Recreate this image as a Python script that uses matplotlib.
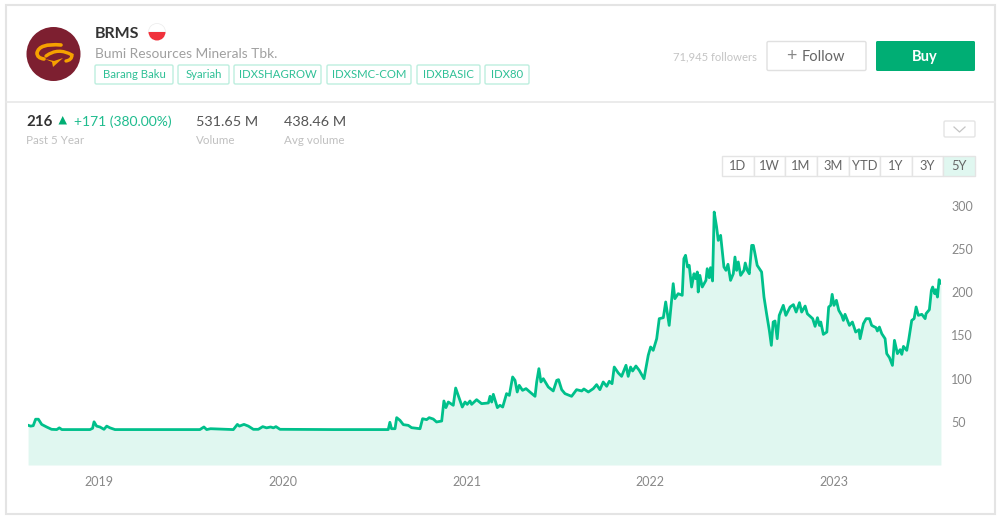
import matplotlib
matplotlib.use("Agg")
import matplotlib.pyplot as plt
from matplotlib.patches import Circle, FancyBboxPatch, Rectangle, Wedge, Polygon, PathPatch
from matplotlib.path import Path

plt.rcParams['font.family'] = ['Lato', 'DejaVu Sans']

# ---------- data ----------
years = [2018.614,2018.628,2018.642,2018.655,2018.670,2018.688,2018.715,2018.742,2018.770,2018.784,2018.798,2018.924,2018.951,2018.965,2018.973,2018.987,
2019.005,2019.027,2019.042,2019.060,2019.087,2019.549,2019.571,2019.586,2019.607,2019.731,2019.753,2019.764,2019.789,2019.813,2019.840,2019.867,2019.891,2019.912,2019.934,2019.949,2019.963,2019.985,
2020.275,2020.574,2020.583,2020.592,2020.611,2020.620,2020.638,2020.656,2020.683,2020.701,2020.747,2020.761,2020.783,2020.797,2020.819,2020.837,2020.865,2020.877,2020.888,2020.901,2020.928,2020.941,2020.955,2020.977,2020.992,
2021.004,2021.019,2021.028,2021.055,2021.082,2021.119,2021.128,2021.137,2021.146,2021.168,2021.182,2021.197,2021.218,2021.233,2021.251,2021.264,2021.276,2021.287,2021.305,2021.324,2021.345,2021.373,2021.382,2021.394,2021.405,2021.418,2021.445,2021.472,2021.491,2021.501,2021.518,2021.536,2021.572,2021.599,2021.627,2021.639,2021.663,2021.690,2021.708,2021.726,2021.744,2021.763,2021.777,2021.792,2021.804,2021.826,2021.844,2021.868,2021.880,2021.893,2021.904,2021.922,2021.940,2021.966,2021.989,
2022.002,2022.016,2022.035,2022.049,2022.071,2022.084,2022.103,2022.125,2022.134,2022.152,2022.174,2022.183,2022.192,2022.203,2022.212,2022.225,2022.238,2022.247,2022.256,2022.261,2022.270,2022.283,2022.303,2022.310,2022.321,2022.328,2022.339,2022.348,2022.361,2022.370,2022.383,2022.401,2022.412,2022.423,2022.437,2022.452,2022.461,2022.470,2022.479,2022.492,2022.510,2022.517,2022.528,2022.539,2022.552,2022.561,2022.570,2022.582,2022.606,2022.619,2022.633,2022.648,2022.659,2022.669,2022.679,2022.691,2022.702,2022.724,2022.738,
2022.761,2022.779,2022.794,2022.812,2022.824,2022.843,2022.855,2022.884,2022.897,2022.910,2022.921,2022.928,2022.942,2022.961,2022.971,2022.982,2022.990,
2023.000,2023.013,2023.026,2023.042,2023.051,2023.060,2023.084,2023.100,2023.118,2023.136,2023.142,2023.160,2023.175,2023.193,2023.205,2023.229,2023.236,2023.247,2023.260,2023.278,2023.287,2023.302,2023.318,2023.329,2023.345,2023.360,2023.369,2023.378,2023.396,2023.407,2023.423,2023.436,2023.447,2023.459,2023.478,2023.496,2023.501,2023.519,2023.530,2023.537,2023.548,2023.554,2023.563,2023.572,2023.582]
prices = [46,45,45.5,53,53,47,44,41.3,41,43,41,41,41,42.5,50,45,
44,41.3,45,43,41,41,44,41,42,41,47,45,47,45,41.3,41.3,44.4,43,44,43,44.4,41.3,
41,41,49.4,42,42,54.8,51.7,46.7,45.9,43.2,42,53.6,52.5,54.8,53.2,49.8,50.9,74.1,66.4,72.9,69.1,89.1,80.6,67.1,72.9,
70.2,74.1,70.2,75.6,71,71.8,79.5,72.9,81.8,66.4,69.1,67.1,82.6,80.6,101.9,98,84.5,92.2,86.4,88.4,84.5,79.5,96.1,111.5,96.1,99.9,90.3,85.7,98,98.8,87.2,82.6,79.5,87.2,85.7,88,84.5,88.4,93,87.2,96.1,91.1,96.9,94.1,113.4,106.5,102.6,115.4,102.6,113.4,108.8,114.6,109.6,99.9,126.9,
136.6,132.7,146.2,169.4,170.5,188.7,161.6,209.9,192.5,198.3,196.4,238.8,242.7,229.2,231.1,206,221.4,215.7,223.4,200.2,219.5,206,213.7,227.2,216.8,228.4,213,292.8,275.5,260,265.8,229.2,225.3,232.3,213.7,221.4,240.7,225.3,235,219.5,225.3,233.8,225.3,221.4,254.2,254.2,244.6,231.1,223.4,194.4,175.2,155.9,138.5,165.5,166.7,146.2,173.2,184.8,173.2,
182.9,185.6,177,187.9,177,184,175,169.4,160.5,170.5,161.6,165.5,151.2,153.9,182.9,184.8,197.5,
184.8,190.6,179,173.2,167.4,174.4,161.6,165.5,153.9,156.6,146.2,163.6,169.4,169.4,161.6,158.9,155.1,159.7,152,146.2,128.9,124.2,115.3,144.3,128.9,133.5,128.1,137.3,132.7,145.4,167.4,169.4,182.9,173.2,174.4,169.4,175.2,179.8,202.2,206,198.3,202.9,194.4,214.5,210.6]
year_ticks = [2019, 2020, 2021, 2022, 2023]
price_ticks = [50, 100, 150, 200, 250, 300]
tags = ["Barang Baku", "Syariah", "IDXSHAGROW", "IDXSMC-COM", "IDXBASIC", "IDX80"]
tag_edges = [(95, 173), (178, 229), (234, 321), (327, 411), (417, 480), (485, 529)]
ranges = ["1D", "1W", "1M", "3M", "YTD", "1Y", "3Y", "5Y"]

GREEN = "#00c08b"
FILL = "#e0f7f0"
BUY = "#00ae74"
ORANGE = "#f6a100"

fig = plt.figure(figsize=(10, 5.21), dpi=100, facecolor="white")

# ---------- page furniture in pixel coordinates ----------
ui = fig.add_axes([0, 0, 1, 1], zorder=0)
ui.set_xlim(0, 1000); ui.set_ylim(521, 0); ui.axis("off")

ui.add_patch(Rectangle((6, 5), 989, 509, fc="white", ec="#e4e4e4", lw=1.5))
ui.plot([6, 995], [101.5, 101.5], color="#e8e8e8", lw=1.2)

# logo
ui.add_patch(Circle((53.5, 54), 27, fc="#7d1f30", ec="none"))
upper = Path([(61, 45), (39, 43), (37, 53), (37, 58), (44, 59)],
             [Path.MOVETO, Path.CURVE3, Path.CURVE3, Path.CURVE3, Path.CURVE3])
lower = Path([(46, 56), (58, 47), (72, 55), (72, 60), (66, 61)],
             [Path.MOVETO, Path.CURVE3, Path.CURVE3, Path.CURVE3, Path.CURVE3])
ui.add_patch(PathPatch(upper, fc="none", ec=ORANGE, lw=2.6, capstyle="round"))
ui.add_patch(PathPatch(lower, fc="none", ec=ORANGE, lw=2.4, capstyle="round"))
ui.add_patch(Polygon([[45, 59], [54, 61], [63, 58], [53, 67], [52, 62]], fc=ORANGE, ec="none"))

# flag
ui.add_patch(Wedge((157, 32), 8.5, 180, 360, fc="white", ec="#eeeeee", lw=0.6))
ui.add_patch(Wedge((157, 32), 8.5, 0, 180, fc="#f0323c", ec="none"))

ui.text(95, 33.5, "BRMS", fontsize=11.5, fontweight="bold", color="#333333", va="center", ha="left")
ui.text(95, 53.5, "Bumi Resources Minerals Tbk.", fontsize=9.9, color="#a0a0a0", va="center", ha="left")

for label, (x0, x1) in zip(tags, tag_edges):
    ui.add_patch(FancyBboxPatch((x0, 65), x1 - x0, 19, boxstyle="round,pad=0,rounding_size=1.5",
                                fc="white", ec="#bdeede", lw=1))
    ui.text((x0 + x1) / 2, 75, label, fontsize=8.2, color="#2fc096", ha="center", va="center")

# follow / buy
ui.text(757, 57, "71,945 followers", fontsize=8.1, color="#c4c4c4", ha="right", va="center")
ui.add_patch(FancyBboxPatch((767, 41.5), 99, 29, boxstyle="round,pad=0,rounding_size=1.5",
                            fc="white", ec="#e0e0e0", lw=1))
ui.text(791, 56, "+", fontsize=13, color="#888888", ha="center", va="center")
ui.text(823.5, 57, "Follow", fontsize=10.5, color="#666666", ha="center", va="center")
ui.add_patch(FancyBboxPatch((876, 41), 99, 30, boxstyle="round,pad=0,rounding_size=1.5",
                            fc=BUY, ec="none"))
ui.text(925, 57, "Buy", fontsize=10.5, fontweight="bold", color="white", ha="center", va="center")

# stats row
ui.text(26, 121.5, "216", fontsize=10.8, fontweight="bold", color="#333333", ha="left", va="center")
ui.add_patch(Polygon([[58.5, 124.5], [67, 124.5], [62.7, 116]], fc=BUY, ec="none"))
ui.text(74, 121.5, "+171 (380.00%)", fontsize=10, color="#1fbc8e", ha="left", va="center")
ui.text(196, 121.5, "531.65 M", fontsize=10.4, color="#555555", ha="left", va="center")
ui.text(284, 121.5, "438.46 M", fontsize=10.4, color="#555555", ha="left", va="center")
ui.text(26, 140.5, "Past 5 Year", fontsize=8.4, color="#c0c0c0", ha="left", va="center")
ui.text(196, 140.5, "Volume", fontsize=8.4, color="#c0c0c0", ha="left", va="center")
ui.text(284, 140.5, "Avg volume", fontsize=8.4, color="#c0c0c0", ha="left", va="center")

# chevron
ui.add_patch(FancyBboxPatch((944, 121), 31, 16, boxstyle="round,pad=0,rounding_size=1.5",
                            fc="white", ec="#e4e4e4", lw=1))
ui.plot([954, 959.5, 965], [127, 132, 127], color="#c4c4c4", lw=0.9)

# range selector
step = (975 - 722) / len(ranges)
for i, label in enumerate(ranges):
    x0 = 722 + i * step
    active = label == "5Y"
    ui.add_patch(Rectangle((x0, 156), step, 20, fc=FILL if active else "white", ec="#e4e4e4", lw=1))
    ui.text(x0 + step / 2, 166.5, label, fontsize=9.3, color="#666666", ha="center", va="center")

# ---------- the chart ----------
ax = fig.add_axes([28 / 1000, 1 - 465 / 521, 913 / 1000, 275 / 521], zorder=1)
ax.patch.set_alpha(0)
ax.fill_between(years, prices, 0, color=FILL, lw=0)
ax.plot(years, prices, color=GREEN, lw=2, solid_joinstyle="round")
ax.set_xlim(2018.6136, 2023.5823)
ax.set_ylim(0, 318.3)
for s in ax.spines.values():
    s.set_visible(False)
ax.set_xticks(year_ticks)
ax.set_xticklabels([str(y) for y in year_ticks])
ax.set_yticks(price_ticks)
ax.yaxis.tick_right()
ax.tick_params(axis="x", length=0, pad=8, labelsize=9, labelcolor="#888888")
ax.tick_params(axis="y", length=0, pad=7.5, labelsize=9, labelcolor="#888888")

fig.savefig("out.png", dpi=100, facecolor="white")
